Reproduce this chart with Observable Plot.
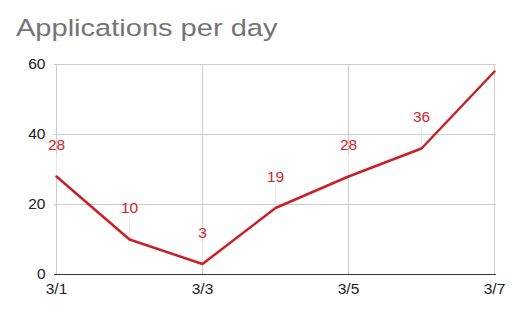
<!DOCTYPE html>
<html>
<head>
<meta charset="utf-8">
<script src="https://cdn.jsdelivr.net/npm/d3@7"></script>
<script src="https://cdn.jsdelivr.net/npm/@observablehq/plot@0.6"></script>
<style>
  html, body { margin: 0; padding: 0; background: #fff; }
  #wrap { position: relative; width: 512px; height: 317px; overflow: hidden; }
  #title { position: absolute; left: 16px; top: 16px; font-family: "Liberation Sans", Arial, sans-serif; font-size: 24.5px; line-height: 24.5px; color: #757575; white-space: nowrap; transform: scaleX(1.185); transform-origin: 0 0; }
  #chart { position: absolute; left: 0; top: 0; }
</style>
</head>
<body>
<div id="wrap">
  <div id="chart"></div>
  <div id="title">Applications per day</div>
</div>
<script>
const days = ["3/1", "3/2", "3/3", "3/4", "3/5", "3/6", "3/7"];
const applications = [28, 10, 3, 19, 28, 36, 58];
const labelled = [true, true, true, true, true, true, false];
const xTicks = ["3/1", "3/3", "3/5", "3/7"];
const yTicks = [0, 20, 40, 60];

const data = days.map((d, i) => ({ day: d, v: applications[i], show: labelled[i] }));
const shown = data.filter(d => d.show);

const red = "#cc1f24";
const font = "'Liberation Sans', Arial, sans-serif";

const plot = Plot.plot({
  width: 512,
  height: 317,
  marginTop: 64,
  marginBottom: 43,
  marginLeft: 54,
  marginRight: 16,
  style: { fontFamily: font, fontSize: "15.5px", color: "#222", background: "transparent" },
  x: { type: "point", domain: days, padding: 0, label: null },
  y: { domain: [0, 60], label: null },
  marks: [
    Plot.gridY(yTicks.filter(t => t > 0), { stroke: "#cccccc", strokeOpacity: 1, strokeWidth: 1 }),
    Plot.gridX(xTicks, { stroke: "#cccccc", strokeOpacity: 1, strokeWidth: 1 }),
    Plot.ruleX(shown, { x: "day", y1: "v", y2: d => d.v + 6.3, stroke: "#e8e8e8", strokeWidth: 1 }),
    Plot.ruleY([0], { stroke: "#333", strokeWidth: 1 }),
    Plot.line(data, { x: "day", y: "v", stroke: red, strokeWidth: 2.5 }),
    Plot.text(shown, { x: "day", y: "v", text: d => String(d.v), dy: -31, fill: "#d0232a", fontSize: 15.5 }),
    Plot.axisY(yTicks, { tickSize: 0, tickPadding: 9, fontSize: 15.5, fill: "#222" }),
    Plot.axisX(xTicks, { tickSize: 0, tickPadding: 8, fontSize: 15.5, fill: "#222" })
  ]
});
document.getElementById("chart").appendChild(plot);
</script>
</body>
</html>
